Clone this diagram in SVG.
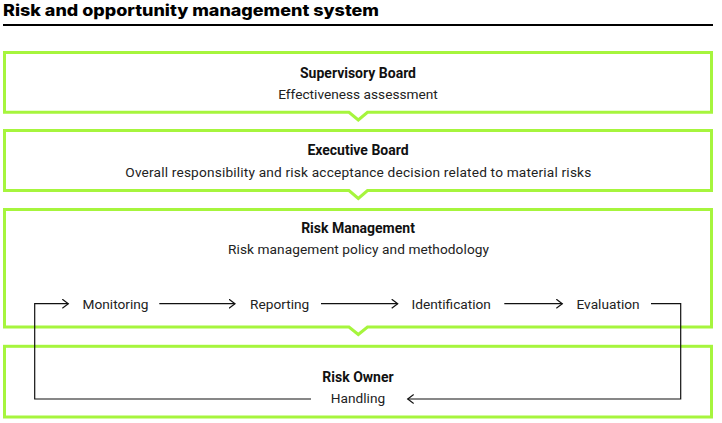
<svg xmlns="http://www.w3.org/2000/svg" width="722" height="423" viewBox="0 0 722 423">
  <style>
    .box { fill: none; stroke: #a6f53d; stroke-width: 3; stroke-linejoin: miter; }
    .t { font-family: Roboto, "Liberation Sans", sans-serif; font-size: 13.7px; fill: #222; text-anchor: middle; }
    .h { font-weight: bold; font-size: 14px; fill: #111; }
    .step { text-anchor: start; }
    .title { font-family: Inter, "Liberation Sans", sans-serif; font-weight: 800; font-size: 16px; fill: #000; }
    .conn { fill: none; stroke: #111; stroke-width: 1.2; }
  </style>
  <defs>
    <marker id="arrow" markerUnits="userSpaceOnUse" markerWidth="10" markerHeight="12" refX="6.5" refY="5" orient="auto">
      <path d="M0.5,0.5 L6.5,5 L0.5,9.5" fill="none" stroke="#111" stroke-width="1.2"/>
    </marker>
  </defs>
  <rect width="722" height="423" fill="#fff"/>

  <g id="title">
    <text class="title" x="3" y="15.7" textLength="376" lengthAdjust="spacingAndGlyphs">Risk and opportunity management system</text>
    <line x1="3" y1="25" x2="713" y2="25" stroke="#000" stroke-width="2"/>
  </g>

  <g id="supervisory-board">
    <path class="box" d="M4.5,52.5 H711.5 V112.3 H367.5 L358.3,120 L349,112.3 H4.5 Z"/>
    <text class="t h" x="358" y="78.3">Supervisory Board</text>
    <text class="t" x="358" y="99.3">Effectiveness assessment</text>
  </g>

  <g id="executive-board">
    <path class="box" d="M4.5,130.4 H711.5 V190.5 H367.5 L358.3,198.5 L349,190.5 H4.5 Z"/>
    <text class="t h" x="358" y="155">Executive Board</text>
    <text class="t" x="358.3" y="176.5" textLength="466" lengthAdjust="spacing">Overall responsibility and risk acceptance decision related to material risks</text>
  </g>

  <g id="risk-management">
    <path class="box" d="M4.5,209.5 H711.5 V327 H367.5 L358.3,334.5 L349,327 H4.5 Z"/>
    <text class="t h" x="358" y="233.3">Risk Management</text>
    <text class="t" x="358.5" y="254" textLength="261" lengthAdjust="spacing">Risk management policy and methodology</text>
  </g>

  <g id="risk-owner">
    <rect class="box" x="4.5" y="346.3" width="707" height="70.7"/>
    <text class="t h" x="358" y="382">Risk Owner</text>
    <text class="t" x="358" y="403">Handling</text>
  </g>

  <g id="monitoring"><text class="t step" x="82.5" y="309">Monitoring</text></g>
  <g id="reporting"><text class="t step" x="250" y="309">Reporting</text></g>
  <g id="identification"><text class="t step" x="411.5" y="309">Identification</text></g>
  <g id="evaluation"><text class="t step" x="576.5" y="309">Evaluation</text></g>

  <g id="connectors">
    <path class="conn" d="M311,399 H34.7 V303.7 H68.3" marker-end="url(#arrow)"/>
    <path class="conn" d="M159.3,303.7 H235" marker-end="url(#arrow)"/>
    <path class="conn" d="M321,303.7 H397.7" marker-end="url(#arrow)"/>
    <path class="conn" d="M504.3,303.7 H562.3" marker-end="url(#arrow)"/>
    <path class="conn" d="M651,303.7 H680.7 V399 H407.7" marker-end="url(#arrow)"/>
  </g>
</svg>
